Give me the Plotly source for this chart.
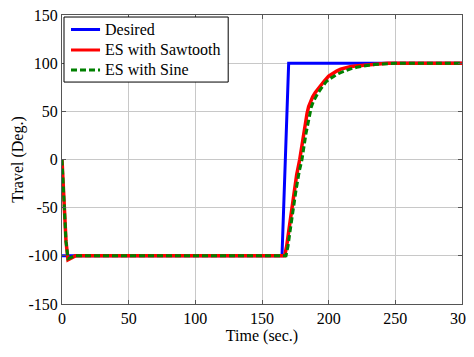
import plotly.graph_objects as go

# Data
t_desired = [0, 165, 170, 300]
y_desired = [-100, -100, 100, 100]

t_saw = [0, 1.5, 3, 4.5, 6, 8, 10, 167, 168.5, 170, 171.3, 172.3, 174, 176, 178.3, 181, 182.5, 183.8, 185, 186.5, 188, 190, 192, 194, 197, 200, 203, 206, 209, 212, 216, 220, 224, 228, 232, 238, 244, 300]
y_saw = [0, -45, -85, -104, -103, -101, -100, -100, -90, -75, -62, -50, -33, -16, 0, 26, 39, 48, 55, 60.5, 65, 69.5, 73.3, 77, 82, 86.5, 89.3, 91.8, 93.8, 95, 96.2, 97, 97.6, 98.3, 99, 99.6, 100, 100]

t_sine = [0, 1.5, 3, 4.5, 6, 8, 10, 168, 169.5, 171, 172.5, 173.5, 175.5, 178, 180, 183, 184.5, 185.8, 187, 188.5, 190, 192, 194, 196, 198, 200, 203, 206, 209, 213, 217, 221, 225, 230, 236, 243, 250, 300]
y_sine = [0, -45, -85, -103, -102, -100.5, -100, -100, -90, -75, -60, -50, -32, -12, 0, 27, 39, 48, 54.5, 60, 64.5, 69, 73, 77, 80.5, 83, 85.8, 88.2, 90.2, 92.5, 94.3, 95.7, 96.8, 97.9, 98.8, 99.5, 100, 100]

x_ticks = [0, 50, 100, 150, 200, 250, 300]
x_tick_text = ["0", "50", "100", "150", "200", "250", "300"]
y_ticks = [-150, -100, -50, 0, 50, 100, 150]
y_tick_text = ["-150", "-100", "-50", "0", "50", "100", "150"]

series_names = ["Desired", "ES with Sawtooth", "ES with Sine"]
series_colors = ["#0000FF", "#FF0000", "#008000"]
series_dash = ["solid", "solid", "6px,3px"]

font_family = "Liberation Serif, Times New Roman, serif"

fig = go.Figure()
fig.add_trace(go.Scatter(x=t_desired, y=y_desired, mode="lines", name=series_names[0],
                         line=dict(color=series_colors[0], width=3)))
fig.add_trace(go.Scatter(x=t_saw, y=y_saw, mode="lines", name=series_names[1],
                         line=dict(color=series_colors[1], width=3.5)))
fig.add_trace(go.Scatter(x=t_sine, y=y_sine, mode="lines", name=series_names[2],
                         line=dict(color=series_colors[2], width=3, dash=series_dash[2])))

axis_common = dict(
    showline=True, linecolor="#555555", linewidth=1, mirror="ticks",
    ticks="inside", ticklen=4, tickcolor="#555555",
    showgrid=True, gridcolor="#c8c8c8", gridwidth=1,
    zeroline=False, automargin=False, ticklabeloverflow="allow",
    tickfont=dict(family=font_family, size=16, color="black"),
)

fig.update_xaxes(range=[0, 300], tickvals=x_ticks, ticktext=x_tick_text,
                 title=dict(text="Time (sec.)", font=dict(family=font_family, size=16, color="black"), standoff=0),
                 **axis_common)
fig.update_yaxes(range=[-150, 150], tickvals=y_ticks, ticktext=y_tick_text,
                 title=dict(text="Travel (Deg.)", font=dict(family=font_family, size=16, color="black"), standoff=0),
                 **axis_common)

# Legend box drawn to match the reference layout (paper coords = plot area)
legend_box = dict(x0=0.005, x1=0.4155, y0=0.768, y1=0.993)
legend_rows_y = [0.9498, 0.8789, 0.8097]
shapes = [dict(type="rect", xref="paper", yref="paper", layer="above",
               x0=legend_box["x0"], x1=legend_box["x1"], y0=legend_box["y0"], y1=legend_box["y1"],
               line=dict(color="black", width=1), fillcolor="white")]
annotations = []
for name, color, dash, ry in zip(series_names, series_colors, series_dash, legend_rows_y):
    shapes.append(dict(type="line", xref="paper", yref="paper", layer="above",
                       x0=0.0225, x1=0.0951, y0=ry, y1=ry,
                       line=dict(color=color, width=3, dash=dash)))
    annotations.append(dict(xref="paper", yref="paper", x=0.103, y=ry, xanchor="left", yanchor="middle",
                            text=name, showarrow=False,
                            font=dict(family=font_family, size=16, color="black")))

# The page body has an 8px default margin, so the figure is sized to fit the 474x357 window
fig.update_layout(
    width=466, height=349,
    margin=dict(l=54, r=12, t=7, b=53),
    paper_bgcolor="white", plot_bgcolor="white",
    showlegend=False,
    shapes=shapes, annotations=annotations,
)

fig.write_html("out.html")
